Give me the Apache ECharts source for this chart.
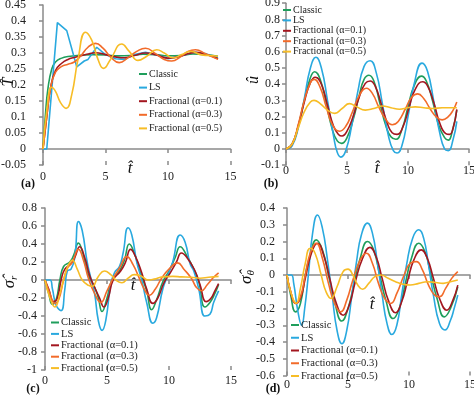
<!DOCTYPE html>
<html><head><meta charset="utf-8">
<script src="https://cdn.jsdelivr.net/npm/echarts@6.0.0/dist/echarts.min.js"></script>
<style>html,body{margin:0;padding:0;background:#fff}#c{width:474px;height:395px}</style>
</head><body><div id="c"></div>
<script>
const names = ['Classic','LS','Fractional (α=0.1)','Fractional (α=0.3)','Fractional (α=0.5)'];
const colors = ['#1f9e5c','#29a9df','#a3161f','#f26b2a','#f7bd26'];
const xTicks = [0, 5, 10, 15];

// ---- panel (a): T-hat ----
const aClassic = [[0,0],[0.2,0.11],[0.4,0.19],[0.7,0.25],[1,0.272],[1.5,0.284],[2,0.289],[3,0.293],[4,0.295],[5,0.294],[6,0.291],[7,0.292],[8,0.296],[9,0.295],[10,0.291],[11,0.292],[12,0.297],[13,0.295],[14,0.29]];
const aLS = [[0,0],[0.3,0],[1.15,0.395],[1.9,0.37],[2.7,0.257],[3.3,0.275],[3.6,0.28],[4.3,0.318],[5,0.295],[5.8,0.282],[6.5,0.28],[7.3,0.295],[8.2,0.302],[9,0.295],[10,0.282],[11,0.29],[12,0.302],[13,0.298],[14,0.285]];
const aF01 = [[0,0],[0.3,0.1],[0.6,0.19],[1,0.245],[1.5,0.268],[2,0.28],[2.5,0.286],[3,0.291],[3.5,0.296],[4.2,0.301],[5,0.295],[5.8,0.288],[6.5,0.285],[7.3,0.292],[8.2,0.3],[9,0.295],[10,0.284],[11,0.29],[12.2,0.302],[13,0.296],[14,0.282]];
const aF03 = [[0,0],[0.3,0.1],[0.6,0.19],[1,0.24],[1.5,0.258],[2,0.265],[2.5,0.272],[3,0.29],[3.6,0.318],[4.2,0.33],[4.8,0.315],[5.4,0.288],[6.1,0.27],[6.8,0.285],[7.5,0.305],[8.2,0.315],[9,0.298],[9.7,0.28],[10.3,0.275],[11,0.288],[11.6,0.305],[12.2,0.31],[13,0.298],[14,0.28]];
const aF05 = [[0,0],[0.3,0.12],[0.7,0.193],[1,0.18],[1.4,0.145],[1.85,0.127],[2.3,0.17],[2.8,0.28],[3.4,0.365],[3.9,0.34],[4.4,0.28],[4.85,0.252],[5.4,0.28],[6.3,0.328],[6.9,0.305],[7.6,0.277],[8.3,0.29],[9.1,0.31],[9.7,0.3],[10.4,0.285],[11.1,0.295],[11.8,0.305],[12.6,0.295],[13.3,0.292],[14,0.29]];

// ---- panel (b): u-hat ----
const bClassic = [[0,0],[0.5,0.03],[1,0.14],[1.5,0.3],[2,0.44],[2.35,0.477],[2.8,0.43],[3.3,0.28],[3.8,0.12],[4.2,0.05],[4.55,0.035],[5,0.07],[5.5,0.18],[6,0.33],[6.4,0.43],[6.8,0.455],[7.2,0.42],[7.7,0.28],[8.2,0.14],[8.6,0.075],[9,0.06],[9.5,0.12],[10,0.26],[10.5,0.39],[11.1,0.45],[11.5,0.42],[12,0.3],[12.5,0.15],[13,0.07],[13.3,0.055],[13.6,0.1],[14,0.24]];
const bLS = [[0,0],[0.5,0.02],[1,0.13],[1.5,0.31],[2,0.5],[2.45,0.566],[2.9,0.5],[3.4,0.3],[3.9,0.08],[4.2,-0.02],[4.5,-0.05],[4.9,-0.01],[5.4,0.15],[5.9,0.36],[6.4,0.51],[6.9,0.545],[7.4,0.47],[7.9,0.28],[8.4,0.08],[8.8,-0.01],[9.1,-0.025],[9.5,0.02],[10,0.2],[10.5,0.4],[11.15,0.53],[11.6,0.48],[12.1,0.3],[12.6,0.1],[13,0.0],[13.3,-0.01],[13.7,0.06],[14,0.17]];
const bF01 = [[0,0],[0.5,0.03],[1,0.14],[1.5,0.29],[2,0.41],[2.4,0.443],[2.9,0.4],[3.4,0.27],[3.9,0.14],[4.3,0.09],[4.6,0.08],[5,0.11],[5.5,0.2],[6,0.32],[6.5,0.405],[6.9,0.42],[7.3,0.39],[7.8,0.28],[8.3,0.16],[8.7,0.1],[9.1,0.09],[9.6,0.14],[10.1,0.26],[10.6,0.37],[11.2,0.415],[11.6,0.39],[12.1,0.29],[12.6,0.16],[13.1,0.095],[13.4,0.09],[13.7,0.13],[14,0.245]];
const bF03 = [[0,0],[0.5,0.03],[1,0.15],[1.5,0.3],[2,0.41],[2.3,0.43],[2.8,0.38],[3.3,0.26],[3.8,0.15],[4.4,0.11],[4.9,0.14],[5.4,0.22],[6,0.33],[6.6,0.375],[7.1,0.34],[7.6,0.26],[8.2,0.18],[8.7,0.15],[9.2,0.17],[9.8,0.25],[10.3,0.32],[10.8,0.34],[11.3,0.31],[11.8,0.25],[12.3,0.2],[12.8,0.18],[13.3,0.2],[13.7,0.24],[14,0.29]];
const bF05 = [[0,0],[0.5,0.03],[1,0.13],[1.5,0.23],[2,0.29],[2.3,0.3],[2.8,0.28],[3.4,0.24],[4,0.22],[4.6,0.25],[5.2,0.28],[5.8,0.26],[6.5,0.24],[7.2,0.25],[7.9,0.265],[8.6,0.255],[9.3,0.245],[10,0.255],[10.6,0.26],[11.3,0.255],[12,0.25],[12.8,0.255],[13.5,0.255],[14,0.255]];

// ---- panel (c): sigma_r ----
const cClassic = [[0,0],[0.3,-0.15],[0.6,-0.27],[0.9,-0.22],[1.2,0.0],[1.5,0.15],[2,0.2],[2.3,0.27],[2.7,0.41],[3.0,0.32],[3.3,0.15],[3.6,0.02],[4,-0.08],[4.3,-0.2],[4.6,-0.35],[5,-0.2],[5.4,0.0],[6,0.1],[6.4,0.22],[6.8,0.4],[7.2,0.3],[7.6,0.12],[7.9,0.0],[8.2,-0.12],[8.6,-0.33],[9,-0.22],[9.5,-0.02],[10,0.1],[10.5,0.25],[10.9,0.37],[11.4,0.28],[12,0.12],[12.4,-0.02],[12.9,-0.3],[13.3,-0.25],[13.7,-0.15],[14,-0.05]];
const cLS = [[0,0],[0.4,0.0],[0.6,-0.1],[0.9,-0.28],[1.3,-0.34],[1.6,-0.1],[1.8,0.1],[2.1,0.12],[2.4,0.25],[2.7,0.65],[3.0,0.55],[3.4,0.2],[3.7,0.02],[4.0,-0.15],[4.3,-0.45],[4.6,-0.56],[4.9,-0.45],[5.3,-0.05],[5.6,0.08],[6.0,0.15],[6.3,0.3],[6.7,0.58],[7.0,0.5],[7.4,0.2],[7.8,0.0],[8.2,-0.25],[8.7,-0.48],[9.0,-0.42],[9.5,-0.1],[9.9,0.05],[10.3,0.2],[10.9,0.5],[11.3,0.42],[11.7,0.18],[12.0,0.1],[12.4,-0.1],[12.9,-0.4],[13.3,-0.38],[13.6,-0.25],[14,-0.12]];
const cF01 = [[0,0],[0.3,-0.1],[0.7,-0.24],[1.0,-0.2],[1.3,0.0],[1.6,0.12],[2.1,0.18],[2.4,0.25],[2.8,0.37],[3.2,0.25],[3.6,0.05],[4,-0.08],[4.4,-0.2],[4.75,-0.3],[5.1,-0.2],[5.5,0.0],[6.1,0.1],[6.5,0.2],[6.9,0.34],[7.3,0.26],[7.8,0.08],[8.2,-0.1],[8.7,-0.26],[9.1,-0.2],[9.6,-0.03],[10.1,0.08],[10.6,0.2],[11,0.3],[11.5,0.24],[12.1,0.1],[12.5,-0.05],[13,-0.24],[13.4,-0.2],[13.7,-0.12],[14,-0.04]];
const cF03 = [[0,0],[0.4,-0.15],[0.8,-0.26],[1.1,-0.22],[1.5,0.0],[1.8,0.13],[2.2,0.2],[2.7,0.34],[3.1,0.22],[3.5,0.02],[4,-0.15],[4.5,-0.25],[5,-0.12],[5.5,0.02],[6,0.13],[6.6,0.26],[7.1,0.17],[7.6,0.02],[8.0,-0.1],[8.4,-0.17],[8.9,-0.1],[9.4,0.02],[10,0.12],[10.7,0.19],[11.2,0.12],[11.8,0.02],[12.2,-0.08],[12.6,-0.12],[13.1,-0.05],[13.6,0.03],[14,0.08]];
const cF05 = [[0,0],[0.4,-0.2],[0.8,-0.3],[1.2,-0.15],[1.6,0.05],[1.9,0.17],[2.2,0.22],[2.6,0.12],[3.0,0.0],[3.5,-0.06],[3.8,-0.07],[4.3,0.04],[4.8,0.1],[5.3,0.06],[5.8,-0.01],[6.2,-0.03],[6.7,0.02],[7.2,0.06],[7.8,0.04],[8.3,0.0],[8.8,0.01],[9.5,0.035],[10.3,0.04],[11,0.035],[11.8,0.03],[12.5,0.02],[13.2,0.03],[14,0.04]];

// ---- panel (d): sigma_theta ----
const dClassic = [[0,0],[0.3,-0.12],[0.7,-0.22],[1.1,-0.17],[1.5,0.0],[1.9,0.12],[2.4,0.21],[2.9,0.15],[3.4,0.0],[3.9,-0.16],[4.5,-0.275],[5.0,-0.2],[5.5,-0.05],[6.0,0.1],[6.6,0.2],[7.1,0.15],[7.6,0.0],[8.1,-0.15],[8.7,-0.26],[9.2,-0.2],[9.7,-0.05],[10.2,0.1],[10.8,0.19],[11.3,0.14],[11.8,0.0],[12.3,-0.14],[12.9,-0.25],[13.4,-0.2],[14,-0.07]];
const dLS = [[0,0],[0.35,0.0],[0.55,-0.05],[0.9,-0.22],[1.2,-0.3],[1.45,-0.2],[1.75,0.0],[2.1,0.25],[2.5,0.358],[2.9,0.28],[3.3,0.1],[3.7,-0.12],[4.1,-0.33],[4.5,-0.41],[4.9,-0.33],[5.3,-0.13],[5.7,0.08],[6.1,0.24],[6.6,0.31],[7.0,0.25],[7.4,0.08],[7.8,-0.12],[8.2,-0.29],[8.6,-0.355],[9.0,-0.3],[9.4,-0.12],[9.8,0.06],[10.3,0.22],[10.8,0.27],[11.2,0.22],[11.6,0.06],[12.0,-0.12],[12.5,-0.29],[12.95,-0.328],[13.4,-0.27],[13.7,-0.2],[14,-0.12]];
const dF01 = [[0,0],[0.3,-0.1],[0.7,-0.17],[1.1,-0.14],[1.5,-0.02],[2.0,0.13],[2.5,0.19],[3.0,0.12],[3.5,-0.02],[4.0,-0.16],[4.6,-0.24],[5.1,-0.18],[5.6,-0.04],[6.2,0.1],[6.8,0.165],[7.3,0.11],[7.8,-0.02],[8.3,-0.15],[8.9,-0.225],[9.4,-0.16],[9.9,-0.03],[10.4,0.09],[11.0,0.15],[11.5,0.1],[12.0,-0.02],[12.5,-0.14],[13.1,-0.21],[13.6,-0.15],[14,-0.06]];
const dF03 = [[0,0],[0.3,-0.1],[0.75,-0.17],[1.1,-0.13],[1.5,0.0],[1.9,0.13],[2.4,0.19],[2.9,0.1],[3.4,-0.05],[3.9,-0.17],[4.4,-0.22],[4.9,-0.15],[5.4,-0.03],[6.0,0.09],[6.5,0.13],[7.0,0.07],[7.5,-0.05],[8.0,-0.14],[8.5,-0.17],[9.0,-0.11],[9.6,0.0],[10.1,0.07],[10.6,0.08],[11.1,0.03],[11.6,-0.06],[12.1,-0.12],[12.5,-0.13],[13.0,-0.08],[13.5,-0.02],[14,0.02]];
const dF05 = [[0,0],[0.3,-0.1],[0.75,-0.17],[1.1,-0.08],[1.5,0.07],[1.9,0.16],[2.3,0.13],[2.8,0.0],[3.2,-0.1],[3.6,-0.14],[4.1,-0.07],[4.6,0.02],[5.0,0.035],[5.4,0.0],[5.8,-0.06],[6.2,-0.085],[6.7,-0.05],[7.2,-0.01],[7.7,0.0],[8.3,-0.02],[8.9,-0.04],[9.5,-0.055],[10.1,-0.06],[10.8,-0.05],[11.5,-0.04],[12.2,-0.045],[12.8,-0.05],[13.4,-0.04],[14,-0.03]];

const panelData = [
  [aClassic, aLS, aF01, aF03, aF05],
  [bClassic, bLS, bF01, bF03, bF05],
  [cClassic, cLS, cF01, cF03, cF05],
  [dClassic, dLS, dF01, dF03, dF05]
];
const yRanges = [[-0.05, 0.45, 0.05], [-0.1, 0.9, 0.1], [-1, 0.8, 0.2], [-0.6, 0.4, 0.1]];

const grids = [
  {left: 43, top: 5, width: 187.5, height: 160},
  {left: 286, top: 3.2, width: 183, height: 162},
  {left: 45, top: 208, width: 186, height: 162},
  {left: 287, top: 208, width: 183, height: 167.5}
];
const yLabelMargin = [17, 6, 8, 12];
const xLabelMargin = [6, 0, 5, 3];
const serif = "'Liberation Serif', 'Times New Roman', serif";
const axisColor = '#8a8a8a';

const xAxes = [], yAxes = [], series = [];
grids.forEach((g, p) => {
  xAxes.push({
    type: 'value', gridIndex: p, min: xTicks[0], max: xTicks[xTicks.length - 1], interval: 5,
    axisLine: {onZero: true, lineStyle: {color: axisColor, width: 1.5}},
    axisTick: {show: true, length: 4, lineStyle: {color: axisColor, width: 1.5}},
    splitLine: {show: false},
    axisLabel: {margin: xLabelMargin[p], fontFamily: serif, fontSize: 12, color: '#222'}
  });
  xAxes.push({
    type: 'value', gridIndex: p, position: 'bottom', min: xTicks[0], max: xTicks[xTicks.length - 1], interval: 5,
    axisLine: {show: false, onZero: true},
    axisTick: {show: true, inside: true, length: 4, lineStyle: {color: axisColor, width: 1.5}},
    splitLine: {show: false}, axisLabel: {show: false}
  });
  const r = yRanges[p];
  yAxes.push({
    type: 'value', gridIndex: p, min: r[0], max: r[1], interval: r[2],
    axisLine: {show: true, onZero: false, lineStyle: {color: axisColor, width: 1.5}},
    axisTick: {show: true, length: 4, lineStyle: {color: axisColor, width: 1.5}},
    splitLine: {show: false},
    axisLabel: {margin: yLabelMargin[p], fontFamily: serif, fontSize: 12, color: '#222',
      formatter: v => String(+v.toFixed(2))}
  });
  panelData[p].forEach((d, k) => {
    series.push({
      type: 'line', name: names[k], xAxisIndex: p * 2, yAxisIndex: p, data: d,
      smooth: (p === 0 && k === 1) ? false : true, showSymbol: false, symbol: 'none',
      lineStyle: {color: colors[k], width: 1.6}, itemStyle: {color: colors[k]}
    });
  });
});

const legendPos = [
  {left: 139, top: 68, lh: 12, gap: 1.6, fs: 10},
  {left: 283, top: 5, lh: 10, gap: 0.4, fs: 10},
  {left: 51, top: 317, lh: 11, gap: 0.4, fs: 10.5},
  {left: 291, top: 319, lh: 12, gap: 0.75, fs: 10.5}
];
const legends = legendPos.map(l => ({
  orient: 'vertical', left: l.left, top: l.top, padding: 0, itemGap: l.gap,
  itemWidth: 8, itemHeight: 2, icon: 'rect', data: names,
  textStyle: {fontFamily: serif, fontSize: l.fs, color: '#222', lineHeight: l.lh, padding: [0, 0, 0, -3]}
}));

const tx = (x, y, text, font, rot) => ({
  type: 'text', x: x, y: y, rotation: rot || 0,
  style: {text: text, font: font, fill: '#111', textAlign: 'center', textVerticalAlign: 'middle'}
});
const rtx = (x, y, base, sub, rot) => ({
  type: 'text', x: x, y: y, rotation: rot,
  style: {text: '{a|' + base + '}{b|' + sub + '}', fill: '#111', textAlign: 'center', textVerticalAlign: 'middle',
    rich: {a: {fontFamily: serif, fontStyle: 'italic', fontSize: 17, fill: '#111'},
           b: {fontFamily: serif, fontStyle: 'italic', fontSize: 11, fill: '#111', padding: [8, 0, 0, 0]}}}
});
const graphics = [
  tx(9, 82, 'T\u0302', "italic 16px 'Liberation Serif'", Math.PI / 2),
  tx(130, 169, 't\u0302', "italic 17px 'Liberation Serif'"),
  tx(28, 184, '(a)', "bold 12px 'Liberation Serif'"),
  tx(254, 80, 'u\u0302', "italic 16px 'Liberation Serif'", Math.PI / 2),
  tx(377, 169, 't\u0302', "italic 17px 'Liberation Serif'"),
  tx(271, 184, '(b)', "bold 12px 'Liberation Serif'"),
  rtx(10, 282, '\u03C3\u0302', 'r', Math.PI / 2),
  tx(133, 286, 't\u0302', "italic 17px 'Liberation Serif'"),
  tx(33, 389, '(c)', "bold 12px 'Liberation Serif'"),
  rtx(247, 277, '\u03C3\u0302', '\u03B8', Math.PI / 2),
  tx(372, 305, 't\u0302', "italic 17px 'Liberation Serif'"),
  tx(273, 389, '(d)', "bold 12px 'Liberation Serif'")
];

const chart = echarts.init(document.getElementById('c'), null, {renderer: 'canvas'});
chart.setOption({
  animation: false,
  backgroundColor: '#ffffff',
  grid: grids.map(g => Object.assign({containLabel: false, outerBoundsMode: 'none'}, g)),
  xAxis: xAxes, yAxis: yAxes, legend: legends, series: series, graphic: graphics
});
</script></body></html>
